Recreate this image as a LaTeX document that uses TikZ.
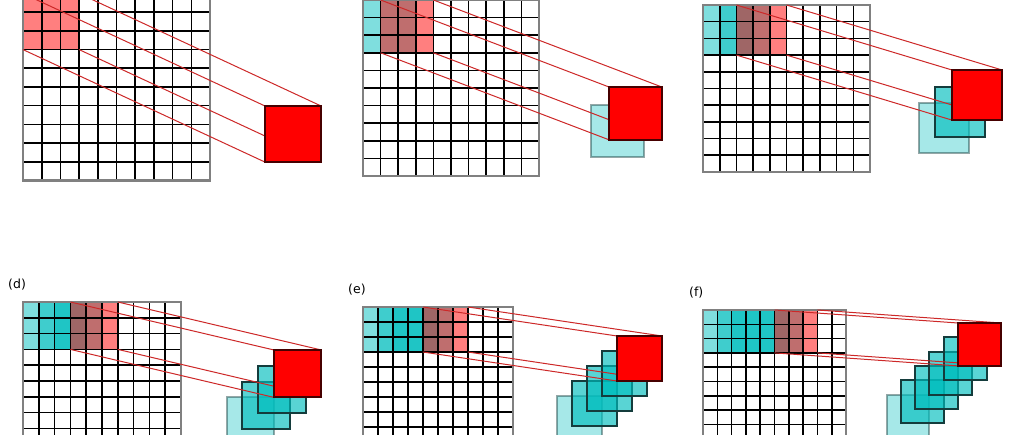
\documentclass[tikz,border=0pt]{standalone}
\usepackage{fontspec}
\setmainfont{DejaVu Sans}
\definecolor{cyanC}{RGB}{0,190,190}
\definecolor{redC}{RGB}{255,0,0}
\definecolor{lineR}{RGB}{205,40,40}
\definecolor{darkT}{RGB}{20,60,60}
\definecolor{darkR}{RGB}{70,0,0}
\tikzset{
  conn/.style={draw=lineR,line width=1pt},
  oldsq/.style={fill=cyanC,fill opacity=.35,draw=darkT,draw opacity=.45,line width=2pt},
  prevsq/.style={fill=cyanC,fill opacity=.65,draw=darkT,draw opacity=1,line width=2pt},
  outsq/.style={fill=redC,draw=darkR,line width=2pt},
  lbl/.style={anchor=west,font=\fontsize{12.5}{14}\selectfont,inner sep=0pt}
}
\newcommand\panel[6]{%
\begin{scope}[shift={(#2,#3)},x=#4pt,y=-#4pt]
 \fill[white] (0,0) rectangle (10,10);
 \ifnum#1>0 \foreach \k in {1,...,#1}{\fill[cyanC,fill opacity=.5] (\k-1,0) rectangle (\k+2,3);}\fi
 \fill[redC,fill opacity=.5] (#1,0) rectangle (#1+3,3);
 \foreach \i in {1,...,9}{\draw[line width=1.6pt] (\i,0) -- (\i,10); \draw[line width=1.6pt] (0,\i) -- (10,\i);}
 \draw[gray,line width=2.2pt] (0,0) rectangle (10,10);
 \coordinate (kA) at (#1,0); \coordinate (kB) at (#1+3,0);
 \coordinate (kC) at (#1,3); \coordinate (kD) at (#1+3,3);
\end{scope}
\begin{scope}[shift={(#5,#6)},x=#4pt,y=-#4pt]
 \ifnum#1>0 \foreach \j in {#1,...,1}{%
   \ifnum\j=#1 \path[oldsq] (-\j,\j) rectangle (3-\j,3+\j);
   \else \path[prevsq] (-\j,\j) rectangle (3-\j,3+\j);\fi}\fi
 \coordinate (oA) at (0,0); \coordinate (oB) at (3,0);
 \coordinate (oC) at (0,3); \coordinate (oD) at (3,3);
 \draw[conn] (kA) -- (oA); \draw[conn] (kB) -- (oB);
 \draw[conn] (kC) -- (oC); \draw[conn] (kD) -- (oD);
 \path[outsq] (oA) rectangle (oD);
\end{scope}}
\begin{document}
\begin{tikzpicture}[x=1pt,y=-1pt]
\useasboundingbox (0,0) rectangle (1024,435);
\fill[white] (0,0) rectangle (1024,435);
\clip (0,0) rectangle (1024,435);
\panel{0}{23}{-6.5}{18.7}{265}{106}
\panel{1}{363}{0}{17.6}{609}{87}
\panel{2}{703}{5}{16.7}{952}{70}
\panel{3}{23}{302}{15.8}{274}{350}
\panel{4}{363}{307}{15}{617}{336}
\panel{5}{703}{310}{14.3}{958}{323}
\node[lbl] (ld) at (8,285) {(d)};
\node[lbl] (le) at (348,290) {(e)};
\node[lbl] (lf) at (689,293) {(f)};
\end{tikzpicture}
\end{document}
